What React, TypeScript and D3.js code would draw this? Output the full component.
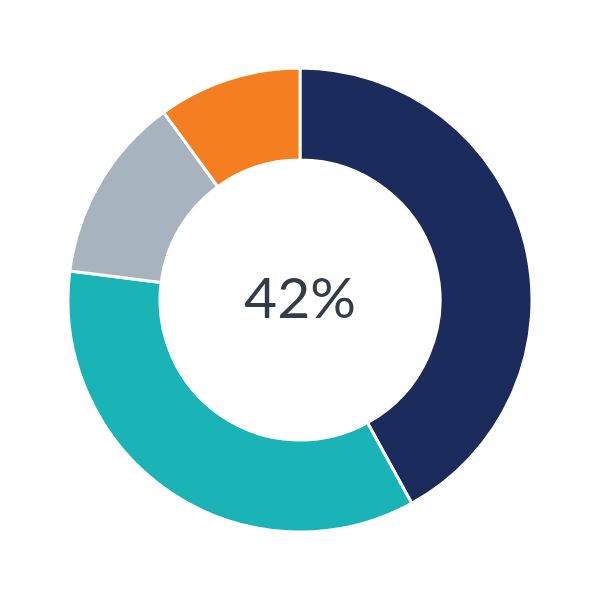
import * as d3 from 'd3';

const LABELS = ['Navy', 'Teal', 'Gray', 'Orange'];
const VALUES = [42, 35, 13, 10];
const COLORS = ['#1b2b5b', '#1ab3b6', '#a8b3c0', '#f47e20'];
const CENTER_LABEL = '42%';

export default function App() {
  const w = 600;
  const h = 600;
  const outer = 232;
  const inner = 140;

  const pie = d3.pie<number>().sort(null).value(d => d)(VALUES);
  const arc = d3.arc<d3.PieArcDatum<number>>().innerRadius(inner).outerRadius(outer);

  return (
    <>
      <style>{`body{margin:0}`}</style>
      <svg width={w} height={h} style={{ display: 'block' }}>
        <rect width={w} height={h} fill="#fff" />
        <g transform={`translate(${w / 2},${h / 2})`}>
          {pie.map((p, i) => (
            <path key={LABELS[i]} d={arc(p) ?? ''} fill={COLORS[i]} stroke="#fff" strokeWidth={3} />
          ))}
          {/* center value */}
          <text
            y={18}
            textAnchor="middle"
            fontSize={57}
            fontWeight={400}
            fontFamily="Lato, 'Open Sans', sans-serif"
            fill="#333d47"
          >
            {CENTER_LABEL}
          </text>
        </g>
      </svg>
    </>
  );
}
